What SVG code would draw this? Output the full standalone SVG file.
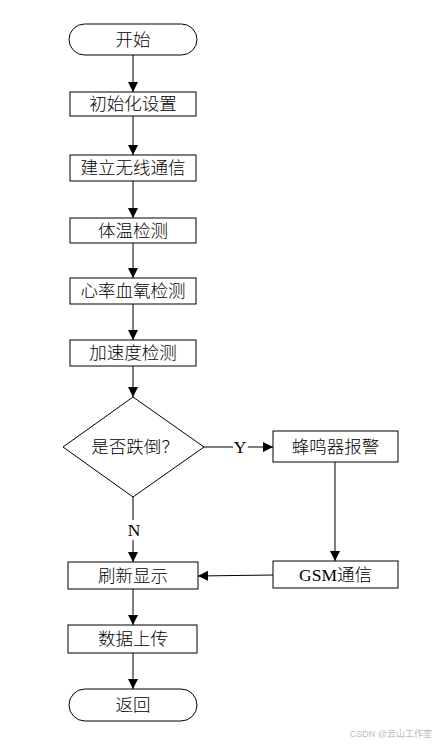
<svg xmlns="http://www.w3.org/2000/svg" width="440" height="747" viewBox="0 0 440 747">
<defs>
<marker id="ahb" viewBox="0 0 10 10" refX="10" refY="5" markerWidth="10" markerHeight="14" markerUnits="userSpaceOnUse" orient="auto">
<path d="M0,0 L10,5 L0,10 z" fill="#000"/>
</marker>
</defs>
<style>
.n{fill:#fff;stroke:#000;stroke-width:1}
.t{font-family:"Liberation Serif","Noto Sans CJK SC",serif;font-size:17.5px;font-weight:300;fill:#000;text-anchor:middle;dominant-baseline:central}
.c{stroke:#000;stroke-width:1;fill:none;marker-end:url(#ahb)}
.l{stroke:#000;stroke-width:1;fill:none}
</style>
<rect width="440" height="747" fill="#fff"/>
<g id="connectors">
<line class="c" x1="133" y1="55" x2="133" y2="92"/>
<line class="c" x1="133" y1="116" x2="133" y2="155"/>
<line class="c" x1="133" y1="181" x2="133" y2="218"/>
<line class="c" x1="133" y1="243" x2="133" y2="278"/>
<line class="c" x1="133" y1="304" x2="133" y2="340"/>
<line class="c" x1="133" y1="366" x2="133" y2="397"/>
<line class="l" x1="204" y1="447" x2="233" y2="447"/>
<line class="c" x1="248" y1="447" x2="273" y2="447"/>
<line class="l" x1="133" y1="497" x2="133" y2="520"/>
<line class="c" x1="133" y1="540" x2="133" y2="562"/>
<line class="c" x1="335" y1="462" x2="335" y2="561"/>
<line class="c" x1="273" y1="575" x2="198" y2="576"/>
<line class="c" x1="133" y1="589" x2="133" y2="625"/>
<line class="c" x1="133" y1="653" x2="133" y2="689"/>
<text class="t" x="240" y="447">Y</text>
<text class="t" x="134" y="530">N</text>
</g>
<g id="start"><rect class="n" x="69" y="24" width="128" height="31" rx="15.5"/><text class="t" x="133" y="40">开始</text></g>
<g id="init"><rect class="n" x="70" y="92" width="126" height="24"/><text class="t" x="133" y="104">初始化设置</text></g>
<g id="wireless"><rect class="n" x="70" y="155" width="126" height="26"/><text class="t" x="133" y="168">建立无线通信</text></g>
<g id="temp"><rect class="n" x="70" y="218" width="126" height="25"/><text class="t" x="133" y="230.5">体温检测</text></g>
<g id="heart"><rect class="n" x="70" y="278" width="126" height="26"/><text class="t" x="133" y="291">心率血氧检测</text></g>
<g id="accel"><rect class="n" x="70" y="340" width="126" height="26"/><text class="t" x="133" y="353">加速度检测</text></g>
<g id="fall"><polygon class="n" points="133,397 204,447 133,497 63,447"/><text class="t" x="135" y="447">是否跌倒？</text></g>
<g id="buzzer"><rect class="n" x="273" y="431" width="125" height="31"/><text class="t" x="335.5" y="446.5">蜂鸣器报警</text></g>
<g id="gsm"><rect class="n" x="273" y="561" width="125" height="27"/><text class="t" x="335.5" y="574.5">GSM通信</text></g>
<g id="refresh"><rect class="n" x="68" y="562" width="130" height="27"/><text class="t" x="133" y="575.5">刷新显示</text></g>
<g id="upload"><rect class="n" x="68" y="625" width="129" height="28"/><text class="t" x="133" y="639">数据上传</text></g>
<g id="return"><rect class="n" x="69" y="689" width="128" height="32" rx="16"/><text class="t" x="133" y="705">返回</text></g>
<text x="432" y="737" style="font-family:'Liberation Sans','Noto Sans CJK SC',sans-serif;font-size:9px;fill:#bbb;text-anchor:end">CSDN @云山工作室</text>
</svg>
